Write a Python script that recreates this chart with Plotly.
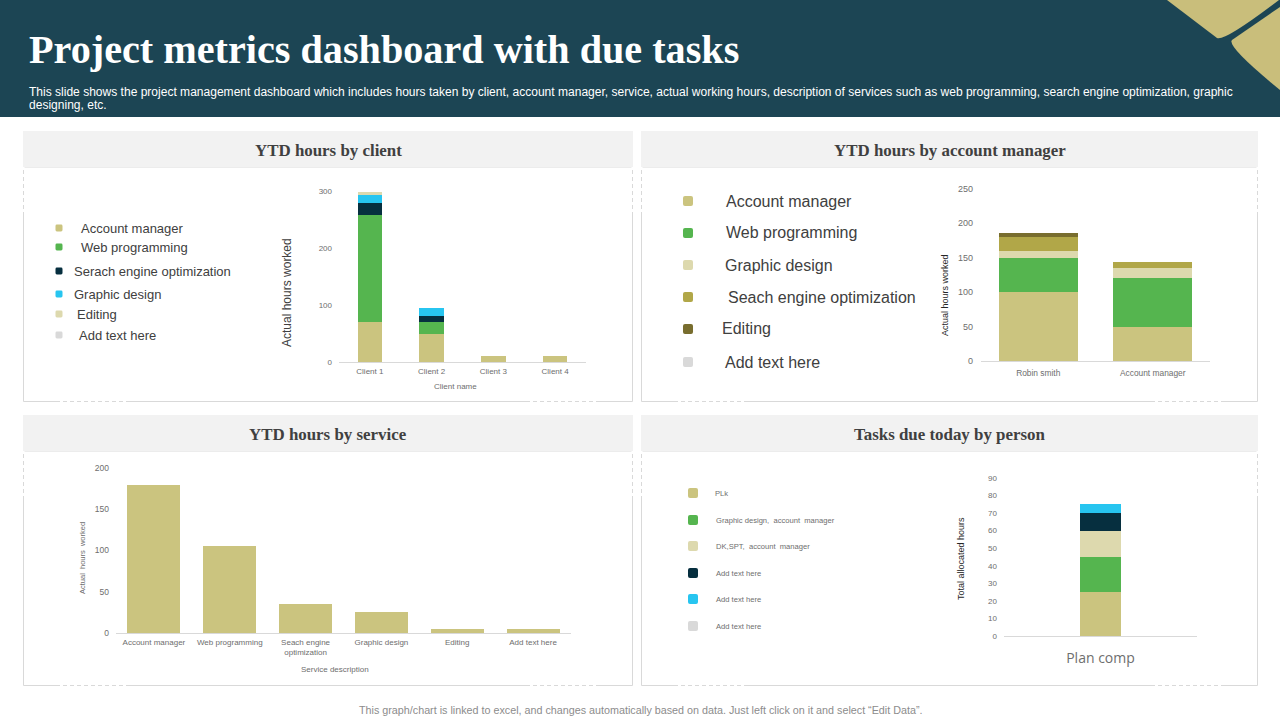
import plotly.graph_objects as go

W = 1280
H = 720

TAN = "#CBC47F"
GREEN = "#55B54F"
PALE = "#DDD9AE"
OLIVE = "#B1A748"
DARK_OLIVE = "#786D2E"
GREY = "#D9D9D9"
NAVY = "#062F3F"
CYAN = "#27C5F0"
HEADER = "#1C4554"
SANS = "Liberation Sans"
SERIF = "Liberation Serif"
TICK = "#6E6E6E"

# YTD hours by client
clients = ["Client 1", "Client 2", "Client 3", "Client 4"]
client_account = [70, 50, 10, 10]
client_web = [188, 21, 0, 0]
client_seo = [21, 9, 0, 0]
client_graphic = [14, 15, 0, 0]
client_editing = [6, 0, 0, 0]
client_ticks = [0, 100, 200, 300]
client_legend = ["Account manager", "Web programming", "Serach engine optimization",
                 "Graphic design", "Editing", "Add text here"]

# YTD hours by account manager
managers = ["Robin smith", "Account manager"]
manager_account = [100, 50]
manager_web = [50, 70]
manager_graphic = [10, 15]
manager_seo = [20, 8]
manager_editing = [5, 0]
manager_ticks = [0, 50, 100, 150, 200, 250]
manager_legend = ["Account manager", "Web programming", "Graphic design",
                  "Seach engine optimization", "Editing", "Add text here"]

# YTD hours by service
services = ["Account manager", "Web programming", "Seach engine<br>optimization",
            "Graphic design", "Editing", "Add text here"]
service_hours = [180, 105, 35, 25, 5, 5]
service_ticks = [0, 50, 100, 150, 200]

# Tasks due today by person
plan = ["Plan comp"]
task_plk = [25]
task_graphic = [20]
task_dk = [15]
task_other = [10]
task_other2 = [5]
task_ticks = [0, 10, 20, 30, 40, 50, 60, 70, 80, 90]
task_legend = ["PLk", "Graphic design,  account  manager", "DK,SPT,  account  manager",
               "Add text here", "Add text here", "Add text here"]

fig = go.Figure()


def px(x):
    return x / W


def py(y):
    return 1 - y / H


def add_text(text, x, y, size, color="#595959", family=SANS, anchor="left", angle=0):
    # annotations carry about 2px of padding on the left
    if anchor == "left":
        x -= 2
    fig.add_annotation(
        text=text, x=px(x), y=py(y), xref="paper", yref="paper", showarrow=False,
        xanchor=anchor, yanchor="middle", textangle=angle, align="center",
        font=dict(size=size, color=color, family=family),
    )


def add_rect(x0, y0, x1, y1, fill, line=None):
    fig.add_shape(
        type="rect", xref="paper", yref="paper", layer="below",
        x0=px(x0), y0=py(y0), x1=px(x1), y1=py(y1), fillcolor=fill,
        line=dict(color=line or fill, width=1 if line else 0),
    )


def add_path(points, fill):
    path = ""
    for cmd, coords in points:
        path += cmd + " ".join(f"{px(a):.5f},{py(b):.5f}" for a, b in coords) + " "
    fig.add_shape(type="path", xref="paper", yref="paper", path=path + "Z",
                  fillcolor=fill, line=dict(width=0))


def add_key(x, y, size, color):
    # small rounded square in front of a legend label
    r = size * 0.2
    h = size / 2
    add_path([
        ("M", [(x - h + r, y - h)]), ("L", [(x + h - r, y - h)]),
        ("Q", [(x + h, y - h), (x + h, y - h + r)]), ("L", [(x + h, y + h - r)]),
        ("Q", [(x + h, y + h), (x + h - r, y + h)]), ("L", [(x - h + r, y + h)]),
        ("Q", [(x - h, y + h), (x - h, y + h - r)]), ("L", [(x - h, y - h + r)]),
        ("Q", [(x - h, y - h), (x - h + r, y - h)]),
    ], color)


def add_panel(x0, x1, y0, y1, title):
    add_rect(x0 + 0.5, y0 + 36, x1 - 0.5, y1 - 0.5, "#FFFFFF", "#D9D9D9")
    add_rect(x0, y0, x1, y0 + 36, "#F2F2F2")
    add_text(f"<b>{title}</b>", (x0 + x1) / 2, y0 + 19, 16.9, "#404040", SERIF, "center")
    # the frame fades into white dashes near the corners
    for a, b, c, d in [(x0 + 0.5, y0 + 36, x0 + 0.5, y0 + 82), (x1 - 0.5, y0 + 36, x1 - 0.5, y0 + 82),
                       (x0 + 37, y1 - 0.5, x0 + 105, y1 - 0.5), (x1 - 103, y1 - 0.5, x1 - 33, y1 - 0.5)]:
        fig.add_shape(type="line", xref="paper", yref="paper", layer="below",
                      x0=px(a), y0=py(b), x1=px(c), y1=py(d),
                      line=dict(color="#FFFFFF", width=2, dash="3px,4px"))


def add_axes(n, x0, x1, y_zero, y_top, top, ticks, tick_size, cat_size, standoff=2, cat_standoff=0):
    suffix = "" if n == 1 else str(n)
    fig.update_layout({
        f"xaxis{suffix}": dict(
            domain=[px(x0), px(x1)], anchor=f"y{suffix}", showgrid=False, showline=True,
            linecolor="#D9D9D9", linewidth=1, ticks="", zeroline=False,
            ticklabelstandoff=cat_standoff,
            tickfont=dict(size=cat_size, color=TICK, family=SANS),
        ),
        f"yaxis{suffix}": dict(
            domain=[py(y_zero), py(y_top)], anchor=f"x{suffix}", range=[0, top],
            tickvals=ticks, showgrid=False, showline=False, zeroline=False, ticks="",
            ticklabelstandoff=standoff,
            tickfont=dict(size=tick_size, color=TICK, family=SANS),
        ),
    })


def add_stack(n, cats, names, series, colors, width):
    suffix = "" if n == 1 else str(n)
    for name, vals, color in zip(names, series, colors):
        fig.add_trace(go.Bar(x=cats, y=vals, name=name, marker_color=color, marker_line_width=0,
                             width=width, xaxis=f"x{suffix}", yaxis=f"y{suffix}", showlegend=False))


# banner
add_rect(0, 0, W, 117, HEADER)
add_text("<b>Project metrics dashboard with due tasks</b>", 29, 50, 40.2, "#FFFFFF", SERIF)
add_text("This slide shows the project management dashboard which includes hours taken by client, "
         "account manager, service, actual working hours, description of services such as web "
         "programming, search engine optimization, graphic", 29, 91.5, 12.04, "#FFFFFF")
add_text("designing, etc.", 29, 104.5, 12.04, "#FFFFFF")
add_path([("M", [(1167, 0)]), ("L", [(1279, 0), (1230, 38)]),
          ("Q", [(1224, 42), (1217, 38)])], "#C9BE7B")
add_path([("M", [(1280, 7)]), ("L", [(1280, 90), (1232, 52)]),
          ("Q", [(1226, 46), (1232, 40)])], "#C9BE7B")

add_panel(23, 633, 131, 402, "YTD hours by client")
add_panel(641, 1258, 131, 402, "YTD hours by account manager")
add_panel(23, 633, 415, 686, "YTD hours by service")
add_panel(641, 1258, 415, 686, "Tasks due today by person")

# client chart
add_axes(1, 339, 586, 362, 191, 300, client_ticks, 8, 8, 6, 1)
add_stack(1, clients, client_legend[:5],
          [client_account, client_web, client_seo, client_graphic, client_editing],
          [TAN, GREEN, NAVY, CYAN, PALE], 0.4)
add_text("Actual hours worked", 287, 293, 12, "#404040", anchor="center", angle=-90)
add_text("Client name", 455, 386, 8, TICK, anchor="center")
client_key_y = [228, 247, 271, 294, 314, 335]
client_text_x = [81, 81, 74, 74, 77, 79]
for label, y, x, color in zip(client_legend, client_key_y, client_text_x,
                              [TAN, GREEN, NAVY, CYAN, PALE, GREY]):
    add_key(59, y, 7, color)
    add_text(label, x, y, 13, "#404040")

# manager chart
add_axes(2, 981, 1210, 361, 188.5, 250, manager_ticks, 9, 8.4, 7, 4)
add_stack(2, managers, manager_legend[:5],
          [manager_account, manager_web, manager_graphic, manager_seo, manager_editing],
          [TAN, GREEN, PALE, OLIVE, DARK_OLIVE], 0.69)
add_text("Actual hours worked", 945, 295, 9, "#262626", anchor="center", angle=-90)
manager_key_y = [201, 233, 265, 297, 329, 362]
manager_text_x = [726, 726, 725, 728, 722, 725]
for label, y, x, color in zip(manager_legend, manager_key_y, manager_text_x,
                              [TAN, GREEN, PALE, OLIVE, DARK_OLIVE, GREY]):
    add_key(688, y, 10, color)
    add_text(label, x, y, 16, "#404040")

# service chart
add_axes(3, 116, 571, 633, 468, 200, service_ticks, 8.5, 8, 6, 1)
fig.add_trace(go.Bar(x=services, y=service_hours, name="Actual hours worked", marker_color=TAN,
                     marker_line_width=0, width=0.7, xaxis="x3", yaxis="y3", showlegend=False))
add_text("Actual  hours  worked", 82, 558, 7.5, TICK, anchor="center", angle=-90)
add_text("Service description", 335, 669, 8, TICK, anchor="center")

# tasks chart
add_axes(4, 1004, 1197, 636, 478, 90, task_ticks, 8, 14, 6, 9)
add_stack(4, plan, task_legend[:5],
          [task_plk, task_graphic, task_dk, task_other, task_other2],
          [TAN, GREEN, PALE, NAVY, CYAN], 0.21)
fig.layout.xaxis4.tickfont.family = "Open Sans"
add_text("Total allocated hours", 961, 559, 9, "#262626", anchor="center", angle=-90)
task_key_y = [493, 520, 546, 573, 599, 626]
task_text_x = [715, 716, 716, 716, 716, 716]
for label, y, x, color in zip(task_legend, task_key_y, task_text_x,
                              [TAN, GREEN, PALE, NAVY, CYAN, GREY]):
    add_key(693, y, 10, color)
    add_text(label, x, y, 7.6, TICK)

add_text("This graph/chart is linked to excel, and changes automatically based on data. "
         "Just left click on it and select \u201cEdit Data\u201d.", 640, 710, 10.75, "#8C8C8C",
         anchor="center")

fig.update_layout(
    width=W, height=H, margin=dict(l=0, r=0, t=0, b=0, autoexpand=False), barmode="stack",
    paper_bgcolor="#FFFFFF", plot_bgcolor="rgba(0,0,0,0)", showlegend=False,
)
fig.write_html("out.html", config={"displayModeBar": False},
               post_script="document.body.style.margin='0';")
